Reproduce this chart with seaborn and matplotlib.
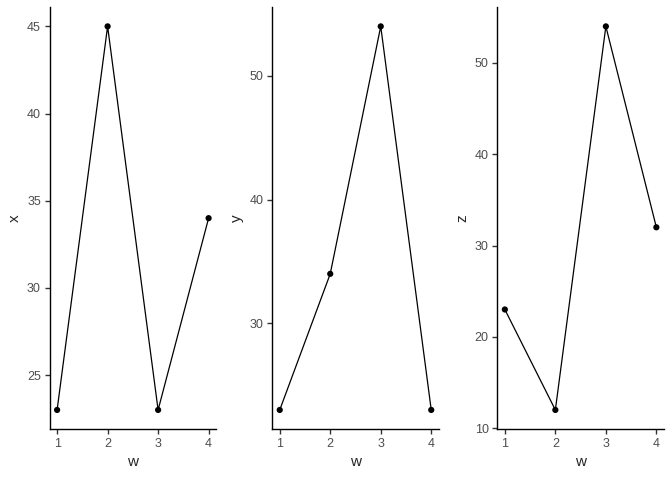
import matplotlib
matplotlib.use("Agg")
import matplotlib.pyplot as plt
import seaborn as sns
import pandas as pd

# data
w = [1, 2, 3, 4]
x = [23, 45, 23, 34]
y = [23, 34, 54, 23]
z = [23, 12, 54, 32]

df = pd.DataFrame({"w": w, "x": x, "y": y, "z": z})

sns.set_style("ticks")
plt.rcParams["font.family"] = ["Liberation Sans", "DejaVu Sans"]

fig = plt.figure(figsize=(6.72, 4.8), dpi=100)

# panel positions (figure fractions)
lefts = [0.0737, 0.405, 0.740]
width = 0.248
bottom, height = 0.106, 0.879

yticks = {"x": [25, 30, 35, 40, 45], "y": [30, 40, 50], "z": [10, 20, 30, 40, 50]}

for left, col in zip(lefts, ["x", "y", "z"]):
    ax = fig.add_axes([left, bottom, width, height])
    sns.lineplot(data=df, x="w", y=col, color="black", linewidth=0.9, ax=ax)
    sns.scatterplot(data=df, x="w", y=col, color="black", s=20, edgecolor="none", ax=ax, zorder=3)

    lo, hi = df[col].min(), df[col].max()
    pad = (hi - lo) * 0.05
    ax.set_ylim(lo - pad, hi + pad)
    ax.set_xlim(0.85, 4.15)
    ax.set_xticks(w)
    ax.set_yticks(yticks[col])

    sns.despine(ax=ax)
    for s in ["left", "bottom"]:
        ax.spines[s].set_linewidth(1.0)
        ax.spines[s].set_color("black")
    ax.tick_params(length=3.7, width=1.0, color="#333333", labelcolor="#4D4D4D",
                   labelsize=9, pad=2.5)
    ax.set_xlabel("w", fontsize=11, labelpad=4)
    ax.set_ylabel(col, fontsize=11, labelpad=4)

fig.savefig("out.png", dpi=100)
